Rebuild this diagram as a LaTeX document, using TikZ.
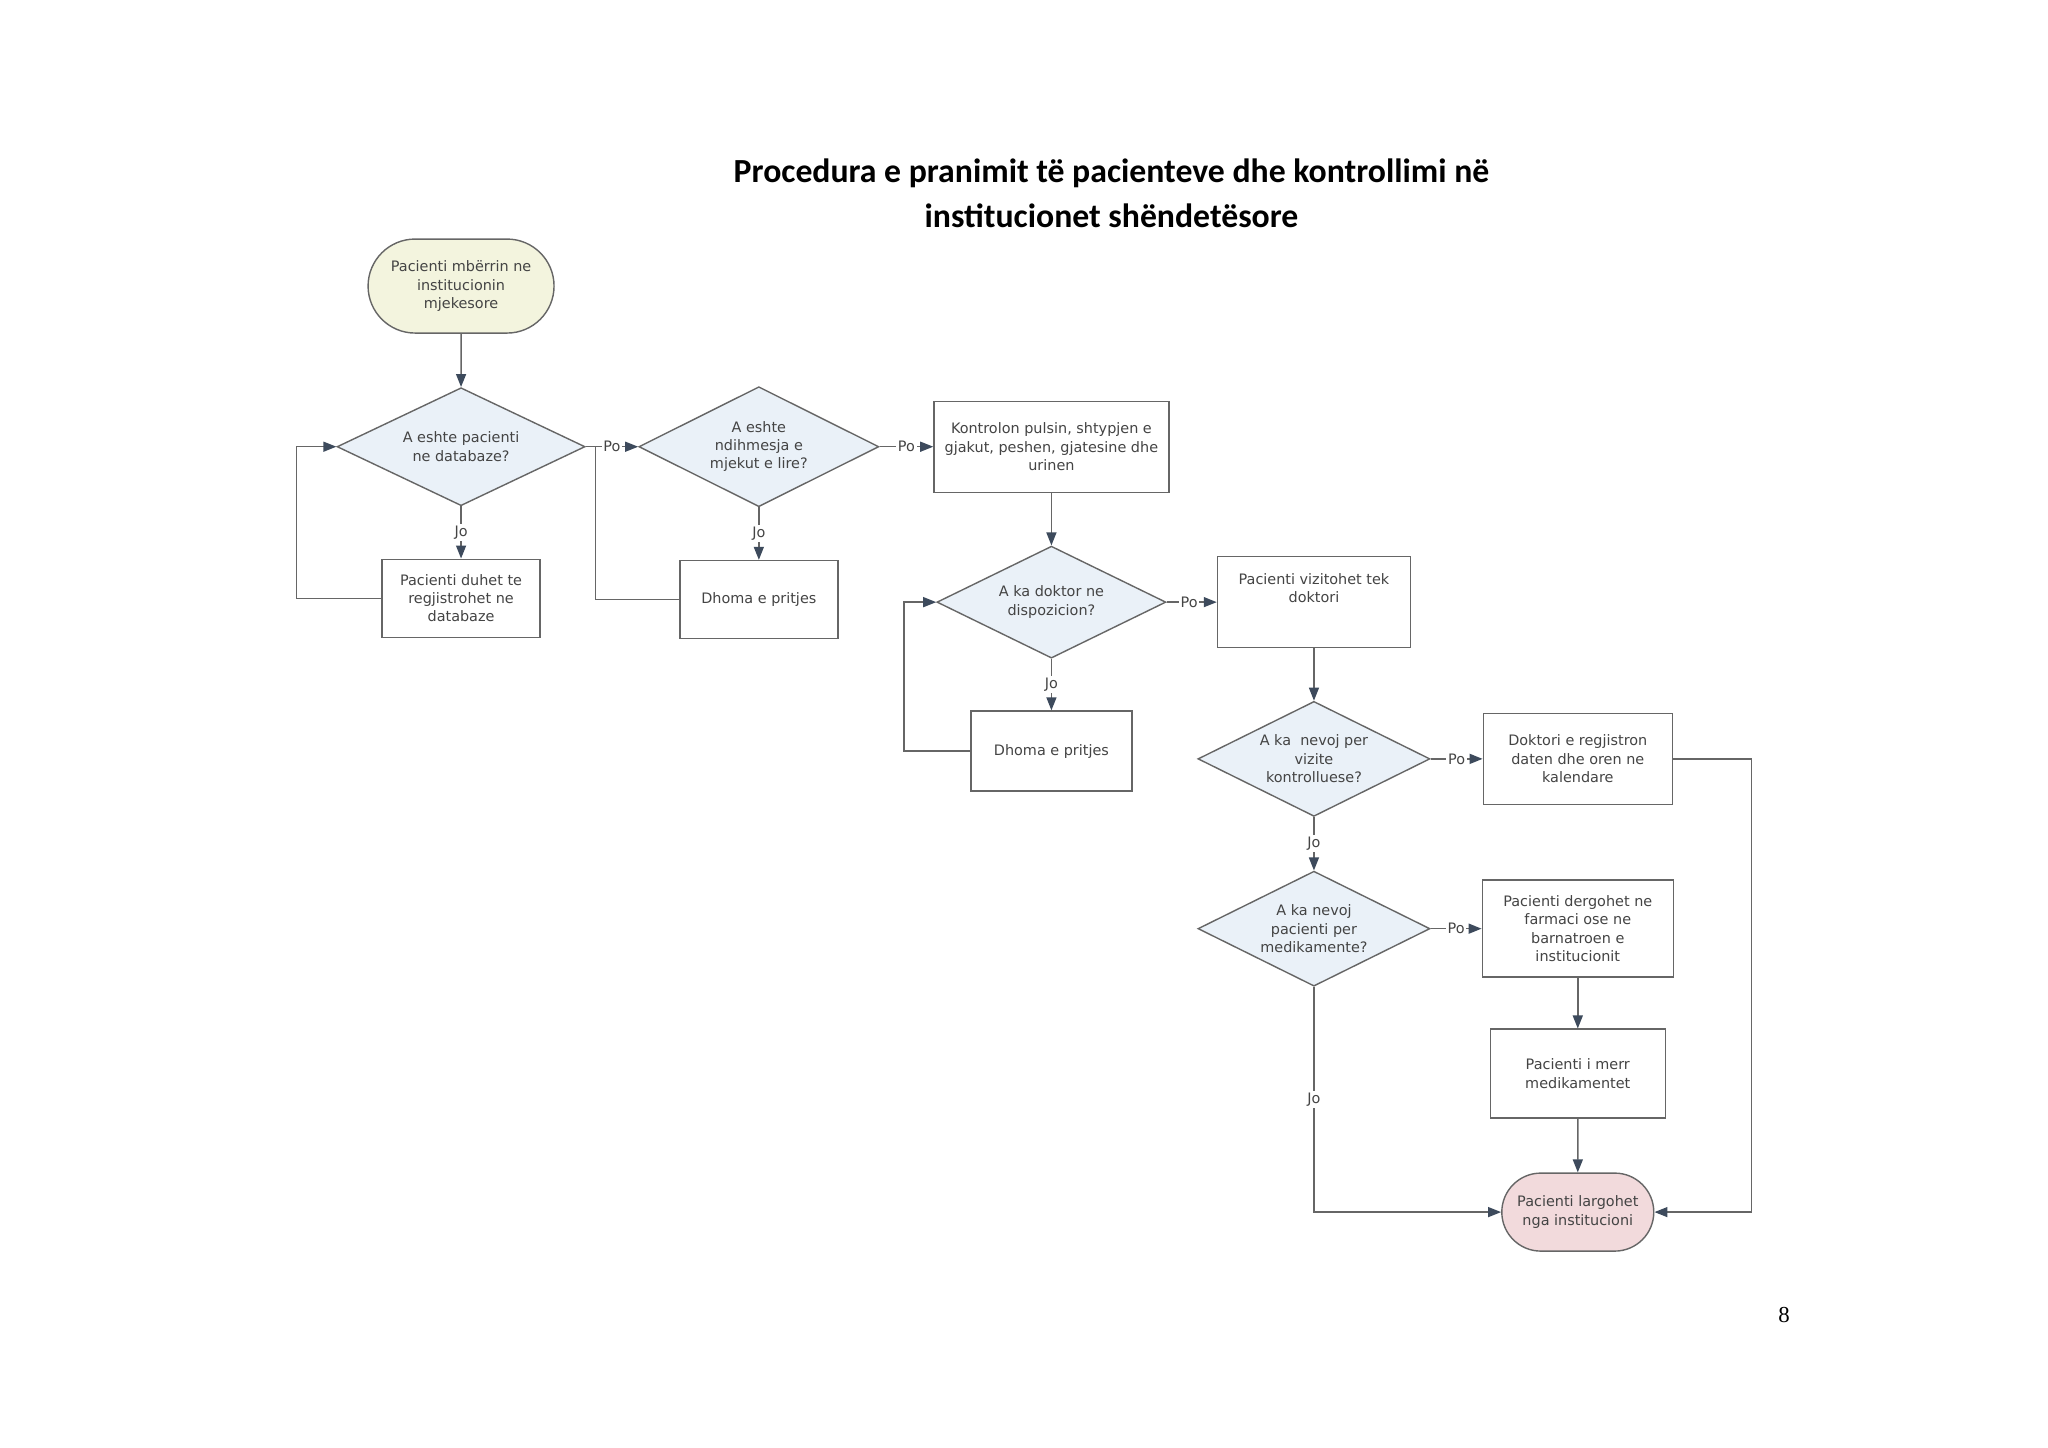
\documentclass[tikz,border=0pt]{standalone}
\usepackage{fontspec}
\setmainfont{DejaVu Sans}
\newfontfamily\titlefont{Carlito}
\newfontfamily\pagefont{Liberation Serif}
\usetikzlibrary{shapes.geometric,arrows.meta}
\definecolor{edge}{HTML}{666666}
\definecolor{tip}{HTML}{3D4A5C}
\definecolor{dfill}{HTML}{EAF1F8}
\definecolor{sfill}{HTML}{F3F4DE}
\definecolor{efill}{HTML}{F2DADC}
\definecolor{txt}{HTML}{444444}
\tikzset{
 base/.style={draw=edge,line width=0.4pt,text=txt,font=\fontsize{4.1}{5.2}\selectfont,align=center,inner sep=1pt},
 boxn/.style={base,rectangle},
 dec/.style={base,diamond,fill=dfill,inner sep=0pt,aspect=2},
 term/.style={base,rounded rectangle},
 conn/.style={draw=edge,line width=0.4pt,-{Triangle[length=0.13cm,width=0.1cm,color=tip]}},
 plain/.style={draw=edge,line width=0.4pt},
 lab/.style={fill=white,inner sep=0.5pt,text=txt,font=\fontsize{4.1}{5}\selectfont}
}
\usetikzlibrary{shapes.misc}
\begin{document}
\begin{tikzpicture}[x=0.01306cm,y=-0.01306cm]
\useasboundingbox[fill=white] (0,0) rectangle (1568,1108);
\node[font=\titlefont\bfseries\fontsize{9.6}{13}\selectfont,align=center] (title) at (851,148) {Procedura e pranimit të pacienteve dhe kontrollimi në\\institucionet shëndetësore};
\node[font=\pagefont\fontsize{6.5}{7}\selectfont] (pg) at (1366,1007) {8};
\node[term,fill=sfill,minimum width=1.93cm,minimum height=0.94cm] (s) at (353,219) {Pacienti mbërrin ne\\institucionin\\mjekesore};
\node[dec,minimum width=2.48cm,minimum height=1.18cm] (d1) at (353,342) {A eshte pacienti\\ne databaze?};
\node[boxn,minimum width=1.58cm,minimum height=0.78cm] (b1) at (353,458) {Pacienti duhet te\\regjistrohet ne\\databaze};
\node[dec,minimum width=2.40cm,minimum height=1.20cm] (d2) at (581,342) {A eshte\\ndihmesja e\\mjekut e lire?};
\node[boxn,minimum width=1.58cm,minimum height=0.78cm] (b2) at (581,459) {Dhoma e pritjes};
\node[boxn,minimum width=2.35cm,minimum height=0.91cm] (b3) at (805,342) {Kontrolon pulsin, shtypjen e\\gjakut, peshen, gjatesine dhe\\urinen};
\node[dec,minimum width=2.29cm,minimum height=1.12cm] (d3) at (805,461) {A ka doktor ne\\dispozicion?};
\node[boxn,minimum width=1.61cm,minimum height=0.80cm] (b4) at (805,575) {Dhoma e pritjes};
\node[boxn,minimum width=1.93cm,minimum height=0.91cm] (b5) at (1006,461) {Pacienti vizitohet tek\\doktori\\[3pt]};
\node[dec,minimum width=2.32cm,minimum height=1.15cm] (d4) at (1006,581) {A ka\ \ nevoj per\\vizite\\kontrolluese?};
\node[boxn,minimum width=1.89cm,minimum height=0.91cm] (b6) at (1208,581) {Doktori e regjistron\\daten dhe oren ne\\kalendare};
\node[dec,minimum width=2.32cm,minimum height=1.15cm] (d5) at (1006,711) {A ka nevoj\\pacienti per\\medikamente?};
\node[boxn,minimum width=1.91cm,minimum height=0.97cm] (b7) at (1208,711) {Pacienti dergohet ne\\farmaci ose ne\\barnatroen e\\institucionit};
\node[boxn,minimum width=1.75cm,minimum height=0.89cm] (b8) at (1208,822) {Pacienti i merr\\medikamentet};
\node[term,fill=efill,minimum width=1.59cm,minimum height=0.78cm] (e) at (1208,928) {Pacienti largohet\\nga institucioni};
\coordinate (c1) at (227,458); \coordinate (c1b) at (227,342);
\coordinate (c2) at (456,459); \coordinate (c2b) at (456,342);
\coordinate (c3) at (692,575); \coordinate (c3b) at (692,461);
\coordinate (c5) at (1006,928);
\coordinate (c6) at (1341,581); \coordinate (c6b) at (1341,928);
\draw[conn] (s) -- (d1);
\draw[conn] (d1) -- node[lab,pos=0.5]{Jo} (b1);
\draw[conn] (b1.west) -- (c1) -- (c1b) -- (d1.west);
\draw[conn] (d1.east) -- node[lab,pos=0.5]{Po} (d2.west);
\draw[plain] (b2.west) -- (c2) -- (c2b);
\draw[conn] (d2) -- node[lab,pos=0.5]{Jo} (b2);
\draw[conn] (d2.east) -- node[lab,pos=0.5]{Po} (b3.west);
\draw[conn] (b3) -- (d3);
\draw[conn] (d3.east) -- node[lab,pos=0.45]{Po} (b5.west);
\draw[conn] (d3) -- node[lab,pos=0.5]{Jo} (b4);
\draw[conn] (b4.west) -- (c3) -- (c3b) -- (d3.west);
\draw[conn] (b5) -- (d4);
\draw[conn] (d4.east) -- node[lab,pos=0.5]{Po} (b6.west);
\draw[conn] (d4) -- node[lab,pos=0.5]{Jo} (d5);
\draw[conn] (d5.east) -- node[lab,pos=0.5]{Po} (b7.west);
\draw[conn] (b7) -- (b8);
\draw[conn] (b8) -- (e);
\draw[conn] (d5.south) -- node[lab,pos=0.5]{Jo} (c5) -- (e.west);
\draw[conn] (b6.east) -- (c6) -- (c6b) -- (e.east);
\end{tikzpicture}
\end{document}
